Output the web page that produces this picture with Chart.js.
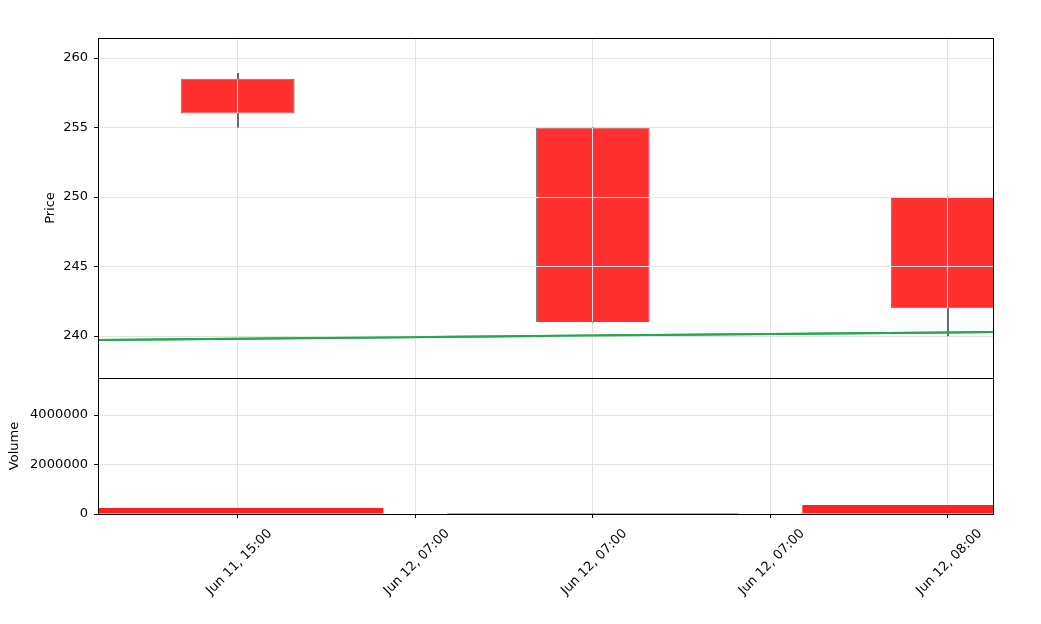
<!DOCTYPE html>
<html>
<head>
<meta charset="utf-8">
<script src="https://cdn.jsdelivr.net/npm/chart.js@4.4.1/dist/chart.umd.min.js"></script>
<style>
  html, body { margin: 0; padding: 0; background: #fff; }
  #wrap { position: relative; width: 1041px; height: 624px; }
  #priceBox { position: absolute; left: 0; top: 0; width: 1041px; height: 379px; }
  #volBox { position: absolute; left: 0; top: 370px; width: 1041px; height: 254px; }
</style>
</head>
<body>
<div id="wrap">
  <div id="priceBox"><canvas id="price"></canvas></div>
  <div id="volBox"><canvas id="volume"></canvas></div>
</div>
<script>
// candles sit at integer positions, ticks every half step
const candleIdx = [0, 1, 2];
const opens = [258.5, 255, 250];
const highs = [258.9, 255, 250];
const lows = [255.0, 241, 240];
const closes = [256, 241, 242];
const volumes = [240000, 40000, 360000];

const maIdx = [-0.4, 0, 1, 2, 2.2];
const maValues = [239.71, 239.80, 240.03, 240.26, 240.31];

const xTickPos = [0, 0.5, 1, 1.5, 2];
const xTickLabels = ['Jun 11, 15:00', 'Jun 12, 07:00', 'Jun 12, 07:00', 'Jun 12, 07:00', 'Jun 12, 08:00'];
const priceTicks = [240, 245, 250, 255, 260];
const volumeTicks = [0, 2000000, 4000000];

const X_MIN = -0.394, X_MAX = 2.13;
const FONT = { family: 'DejaVu Sans', size: 13 };

Chart.defaults.font = FONT;
Chart.defaults.color = '#000';
Chart.defaults.animation = false;

// grid sits over the candle bodies but under wicks and the average line,
// so those datasets get drawn a second time once the grid is down
const frame = {
  id: 'frame',
  afterDraw(chart, args, opts) {
    const { ctx, chartArea: a } = chart;
    (opts.redraw || []).forEach(i => {
      Chart.helpers.clipArea(ctx, a);
      chart.getDatasetMeta(i).controller.draw();
      Chart.helpers.unclipArea(ctx);
    });
    ctx.save();
    ctx.strokeStyle = '#000';
    ctx.lineWidth = 1;
    ctx.strokeRect(Math.round(a.left) + 0.5, Math.round(a.top) + 0.5,
      Math.round(a.right - a.left) - 1, Math.round(a.bottom - a.top));
    ctx.restore();
  }
};

// pin axis sizes and drop the label overhang padding so both panels line up
const fixedWidth = w => scale => { scale.width = w; scale.paddingTop = 0; scale.paddingBottom = 0; };
const fixedHeight = h => scale => { scale.height = h; scale.paddingLeft = 0; scale.paddingRight = 0; };
const halfStepTicks = s => { s.ticks = xTickPos.map(value => ({ value })); };

const wick = (data) => ({
  type: 'bar',
  data,
  backgroundColor: '#606060',
  barThickness: 1,
  grouped: false,
  order: 2,
});

new Chart(document.getElementById('price'), {
  data: {
    datasets: [
      {
        type: 'bar',
        data: candleIdx.map((x, i) => ({ x, y: [closes[i], opens[i]] })),
        backgroundColor: '#ff3030',
        borderColor: '#707070',
        borderWidth: 1,
        borderSkipped: false,
        barPercentage: 0.64,
        categoryPercentage: 1,
        grouped: false,
        order: 1,
      },
      wick(candleIdx.map((x, i) => ({ x, y: [Math.max(opens[i], closes[i]), highs[i]] }))),
      wick(candleIdx.map((x, i) => ({ x, y: [lows[i], Math.min(opens[i], closes[i])] }))),
      {
        type: 'line',
        data: maIdx.map((x, i) => ({ x, y: maValues[i] })),
        borderColor: '#23a84a',
        borderWidth: 2,
        pointRadius: 0,
        order: 0,
      },
    ],
  },
  options: {
    responsive: true,
    maintainAspectRatio: false,
    layout: { padding: { top: 38, right: 47, bottom: 1, left: 0 } },
    plugins: {
      legend: { display: false },
      tooltip: { enabled: false },
      frame: { redraw: [1, 2, 3] },
    },
    scales: {
      x: {
        type: 'linear',
        min: X_MIN,
        max: X_MAX,
        offset: false,
        afterBuildTicks: halfStepTicks,
        afterFit: fixedHeight(0),
        ticks: { display: false },
        grid: { color: '#e2e2e2', drawTicks: false, offset: false, z: 1 },
        border: { display: false },
      },
      y: {
        min: 236.98,
        max: 261.44,
        afterBuildTicks: s => { s.ticks = priceTicks.map(value => ({ value })); },
        afterFit: fixedWidth(98),
        ticks: { padding: 6 },
        grid: { color: '#e2e2e2', tickColor: '#000', tickLength: 4, z: 1 },
        border: { display: false },
        title: { display: true, text: 'Price', font: FONT, padding: { top: 43, bottom: 0 } },
      },
    },
  },
  plugins: [frame],
});

new Chart(document.getElementById('volume'), {
  type: 'bar',
  data: {
    datasets: [{
      data: candleIdx.map((x, i) => ({ x, y: volumes[i] })),
      backgroundColor: '#ff2020',
      barPercentage: 1.64,
      categoryPercentage: 1,
    }],
  },
  options: {
    responsive: true,
    maintainAspectRatio: false,
    layout: { padding: { top: 8, right: 47, bottom: 0, left: 0 } },
    plugins: { legend: { display: false }, tooltip: { enabled: false } },
    scales: {
      x: {
        type: 'linear',
        min: X_MIN,
        max: X_MAX,
        offset: false,
        afterBuildTicks: halfStepTicks,
        afterFit: fixedHeight(110),
        ticks: {
          autoSkip: false,
          minRotation: 45,
          maxRotation: 45,
          labelOffset: 32,
          padding: 8,
          callback: (v, i) => xTickLabels[i],
        },
        grid: { color: '#e2e2e2', tickColor: '#000', tickLength: 4, offset: false },
        border: { display: false },
      },
      y: {
        min: 0,
        max: 5500000,
        afterBuildTicks: s => { s.ticks = volumeTicks.map(value => ({ value })); },
        afterFit: fixedWidth(98),
        ticks: { padding: 6, callback: v => String(v) },
        grid: { color: '#e2e2e2', tickColor: '#000', tickLength: 4 },
        border: { display: false },
        title: { display: true, text: 'Volume', font: FONT, padding: { top: 7, bottom: 0 } },
      },
    },
  },
  plugins: [frame],
});
</script>
</body>
</html>
